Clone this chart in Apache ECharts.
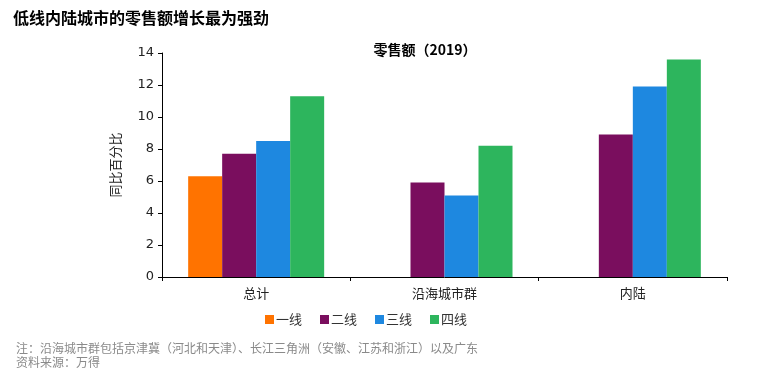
<!DOCTYPE html>
<html>
<head>
<meta charset="utf-8">
<script src="https://cdn.jsdelivr.net/npm/echarts@6/dist/echarts.min.js"></script>
<style>
  html, body { margin: 0; padding: 0; background: #fff; }
  #main { width: 775px; height: 370px; }
</style>
</head>
<body>
<div id="main"></div>
<script>
const categories = ['总计', '沿海城市群', '内陆']
const tier1 = [6.3, null, null]
const tier2 = [7.7, 5.9, 8.9]
const tier3 = [8.5, 5.1, 11.9]
const tier4 = [11.3, 8.2, 13.6]
const seriesNames = ['一线', '二线', '三线', '四线']
const colors = ['#FF7300', '#7A0E5E', '#1E88E0', '#2DB55D']

const chart = echarts.init(document.getElementById('main'))
const font = '"Noto Sans CJK SC", sans-serif'

const makeBar = (name, data, color) => ({
  name,
  type: 'bar',
  data,
  barWidth: 34,
  barGap: '0%',
  itemStyle: { color },
  emphasis: { disabled: true }
})

const option = {
  animation: false,
  title: [
    {
      text: '低线内陆城市的零售额增长最为强劲',
      left: 8,
      top: 5,
      textStyle: { fontFamily: font, fontSize: 16, fontWeight: 'bold', color: '#000' }
    },
    {
      text: '零售额（2019）',
      left: 420,
      textAlign: 'center',
      top: 38,
      textStyle: { fontFamily: font, fontSize: 14, fontWeight: 'bold', color: '#000' }
    },
    {
      text: '注：沿海城市群包括京津冀（河北和天津）、长江三角洲（安徽、江苏和浙江）以及广东\n资料来源：万得',
      left: 16,
      top: 341,
      padding: 0,
      textStyle: { fontFamily: font, fontSize: 12, fontWeight: 'normal', color: '#8a8a8a', lineHeight: 14 }
    }
  ],
  legend: {
    data: seriesNames,
    left: 260,
    top: 308,
    itemWidth: 9,
    itemHeight: 9,
    itemGap: 18,
    icon: 'rect',
    textStyle: { fontFamily: font, fontSize: 13, color: '#333', padding: [0, 0, 0, -3] }
  },
  grid: {
    left: 162,
    right: 48,
    top: 53,
    bottom: 93
  },
  xAxis: {
    type: 'category',
    data: categories,
    axisLine: { lineStyle: { color: '#000', width: 1 } },
    axisTick: { show: true, length: 4, lineStyle: { color: '#000' } },
    axisLabel: { fontFamily: font, fontSize: 13, color: '#222', margin: 10 }
  },
  yAxis: {
    type: 'value',
    min: 0,
    max: 14,
    interval: 2,
    name: '同比百分比',
    nameLocation: 'middle',
    nameGap: 40,
    nameRotate: 90,
    nameTextStyle: { fontFamily: font, fontSize: 13, color: '#222' },
    axisLine: { show: true, lineStyle: { color: '#000', width: 1 } },
    axisTick: { show: true, length: 4, lineStyle: { color: '#000' } },
    axisLabel: { fontFamily: 'DejaVu Sans, sans-serif', fontSize: 13, color: '#222', margin: 8 },
    splitLine: { show: false }
  },
  series: [
    makeBar(seriesNames[0], tier1, colors[0]),
    makeBar(seriesNames[1], tier2, colors[1]),
    makeBar(seriesNames[2], tier3, colors[2]),
    makeBar(seriesNames[3], tier4, colors[3])
  ]
}

chart.setOption(option)
</script>
</body>
</html>
